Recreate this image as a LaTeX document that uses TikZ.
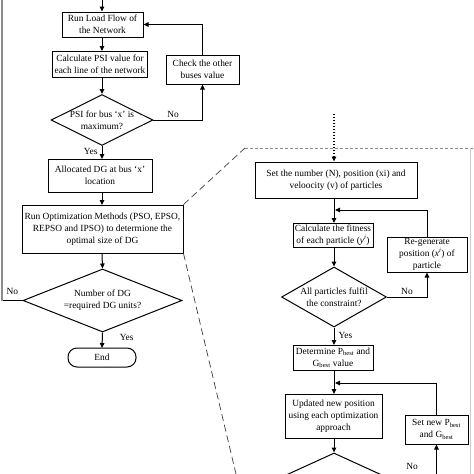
\documentclass[tikz,border=0pt]{standalone}
\usepackage{fontspec}
\setmainfont{Liberation Serif}
\usetikzlibrary{shapes.geometric,arrows.meta}
\begin{document}
\begin{tikzpicture}[x=1pt,y=-1pt,
  txt/.style={font=\fontsize{9.4}{12}\selectfont},
  box/.style={txt,draw,line width=1pt,align=center,inner sep=1pt,rectangle},
  dec/.style={txt,draw,diamond,aspect=2,inner sep=0pt,align=center,line width=1pt},
  term/.style={txt,draw,rectangle,rounded corners=9pt,line width=1pt,inner sep=1pt},
  arr/.style={line width=1pt,-{Triangle[length=5pt,width=4.5pt]}},
  ln/.style={line width=1pt},
  lbl/.style={txt,inner sep=1pt},
  zoomd/.style={black!75,line width=0.7pt,dash pattern=on 7pt off 4pt},
  zoomt/.style={black!45,line width=0.6pt,dash pattern=on 3pt off 2pt}]
\useasboundingbox (0,0) rectangle (474,474);
\clip (0,0) rectangle (474,474);
\fill[white] (0,0) rectangle (474,474);

% left column
\node[box,minimum width=81pt,minimum height=25pt] (n1) at (102.5,24.5) {Run Load Flow of\\the Network};
\node[box,minimum width=95pt,minimum height=26pt] (n2) at (100,64) {Calculate PSI value for\\each line of the network};
\node[dec,minimum width=100pt,minimum height=48pt] (d1) at (102,120) {PSI for bus ‘x’ is\\maximum?};
\node[box,minimum width=73pt,minimum height=29pt] (c1) at (202.5,69.5) {Check the other\\buses value};
\node[box,minimum width=104pt,minimum height=33pt] (n3) at (100,175.5) {Allocated DG at bus ‘x’\\location};
\node[box,minimum width=161pt,minimum height=48pt] (n4) at (102.5,229) {Run Optimization Methods (PSO, EPSO,\\REPSO and IPSO) to determione the\\optimal size of DG};
\node[dec,minimum width=159pt,minimum height=63pt] (d2) at (102.5,300.5) {Number of DG\\=required DG units?};
\node[term,minimum width=68pt,minimum height=19pt] (e) at (102,357.5) {End};

\coordinate (top) at (102,0);
\coordinate (lft) at (2,300.5);
\coordinate (lfttop) at (2,0);

\draw[arr] (top) -- (top |- n1.north);
\draw[arr] (102,37) -- (102,51);
\draw[arr] (102,77) -- (d1.north);
\draw[arr] (d1.south) -- (102,159) node[lbl,pos=0.45,left=3pt] {Yes};
\draw[arr] (102,192) -- (102,205);
\draw[arr] (102,253) -- (d2.north);
\draw[arr] (d2.south) -- (102,348) node[lbl,pos=0.35,right=16pt] {Yes};
\draw[arr] (d1.east) -| (c1.south) node[lbl,pos=0.2,above=1pt] {No};
\draw[arr] (c1.north) |- (n1.east);
\draw[ln] (d2.west) -- (lft) node[lbl,pos=0.5,above=4pt] {No};
\draw[line width=1.6pt,black!45] (lft) -- (lfttop);

% zoom lines
\coordinate (zc) at (245,148);
\coordinate (zr) at (474,148);
\coordinate (zb) at (236,474);
\coordinate (zrt) at (470,148);
\coordinate (zrb) at (470,474);
\draw[zoomd] (n4.north east) -- (zc);
\draw[zoomt] (zc) -- (zr);
\draw[zoomd] (n4.south east) -- (zb);
\draw[black!20,line width=0.6pt] (zrt) -- (zrb);

% right column
\node[box,minimum width=162pt,minimum height=36pt] (r1) at (336,180) {Set the number (N), position (xi) and\\veloocity (v) of particles};
\node[box,minimum width=80pt,minimum height=24pt] (r2) at (333,235) {Calculate the fitness\\of each particle (\textit{y}\textsuperscript{\textit{i}})};
\node[box,minimum width=80pt,minimum height=35pt] (r3) at (427,254.5) {Re-generate\\position (\textit{x}\textsuperscript{\textit{i}}) of\\particle};
\node[dec,minimum width=99pt,minimum height=60pt] (d3) at (334,297) {All particles fulfil\\the constraint?};
\node[box,minimum width=80pt,minimum height=25pt] (r4) at (333,357.5) {Determine P\textsubscript{best} and\\G\textsubscript{best} value};
\node[box,minimum width=97pt,minimum height=44pt] (r5) at (333.5,416) {Updated new position\\using each optimization\\approach};
\node[box,minimum width=63pt,minimum height=29pt] (r6) at (436.5,429.5) {Set new P\textsubscript{best}\\and G\textsubscript{best}};
\node[dec,minimum width=140pt,minimum height=64pt] (d4) at (334,485) {};

\coordinate (dtop) at (334,114);
\coordinate (j1) at (335,210);
\coordinate (j2) at (335,383);

\draw[arr,dotted,line width=1.3pt] (dtop) -- (dtop |- r1.north);
\draw[arr] (334,198) -- (334,223);
\draw[arr] (r3.north) |- (j1);
\draw[arr] (334,247) -- (d3.north);
\draw[arr] (d3.east) -| (r3.south) node[lbl,pos=0.25,above=1pt] {No};
\draw[arr] (d3.south) -- (334,345) node[lbl,pos=0.45,right=3pt] {Yes};
\draw[arr] (334,370) -- (334,394);
\draw[arr] (r6.north) |- (j2);
\draw[arr] (334,438) -- (d4.north);
\draw[arr] (d4.east) -| (r6.south);
\node[lbl] (nolbl) at (412,466) {No};
\end{tikzpicture}
\end{document}
